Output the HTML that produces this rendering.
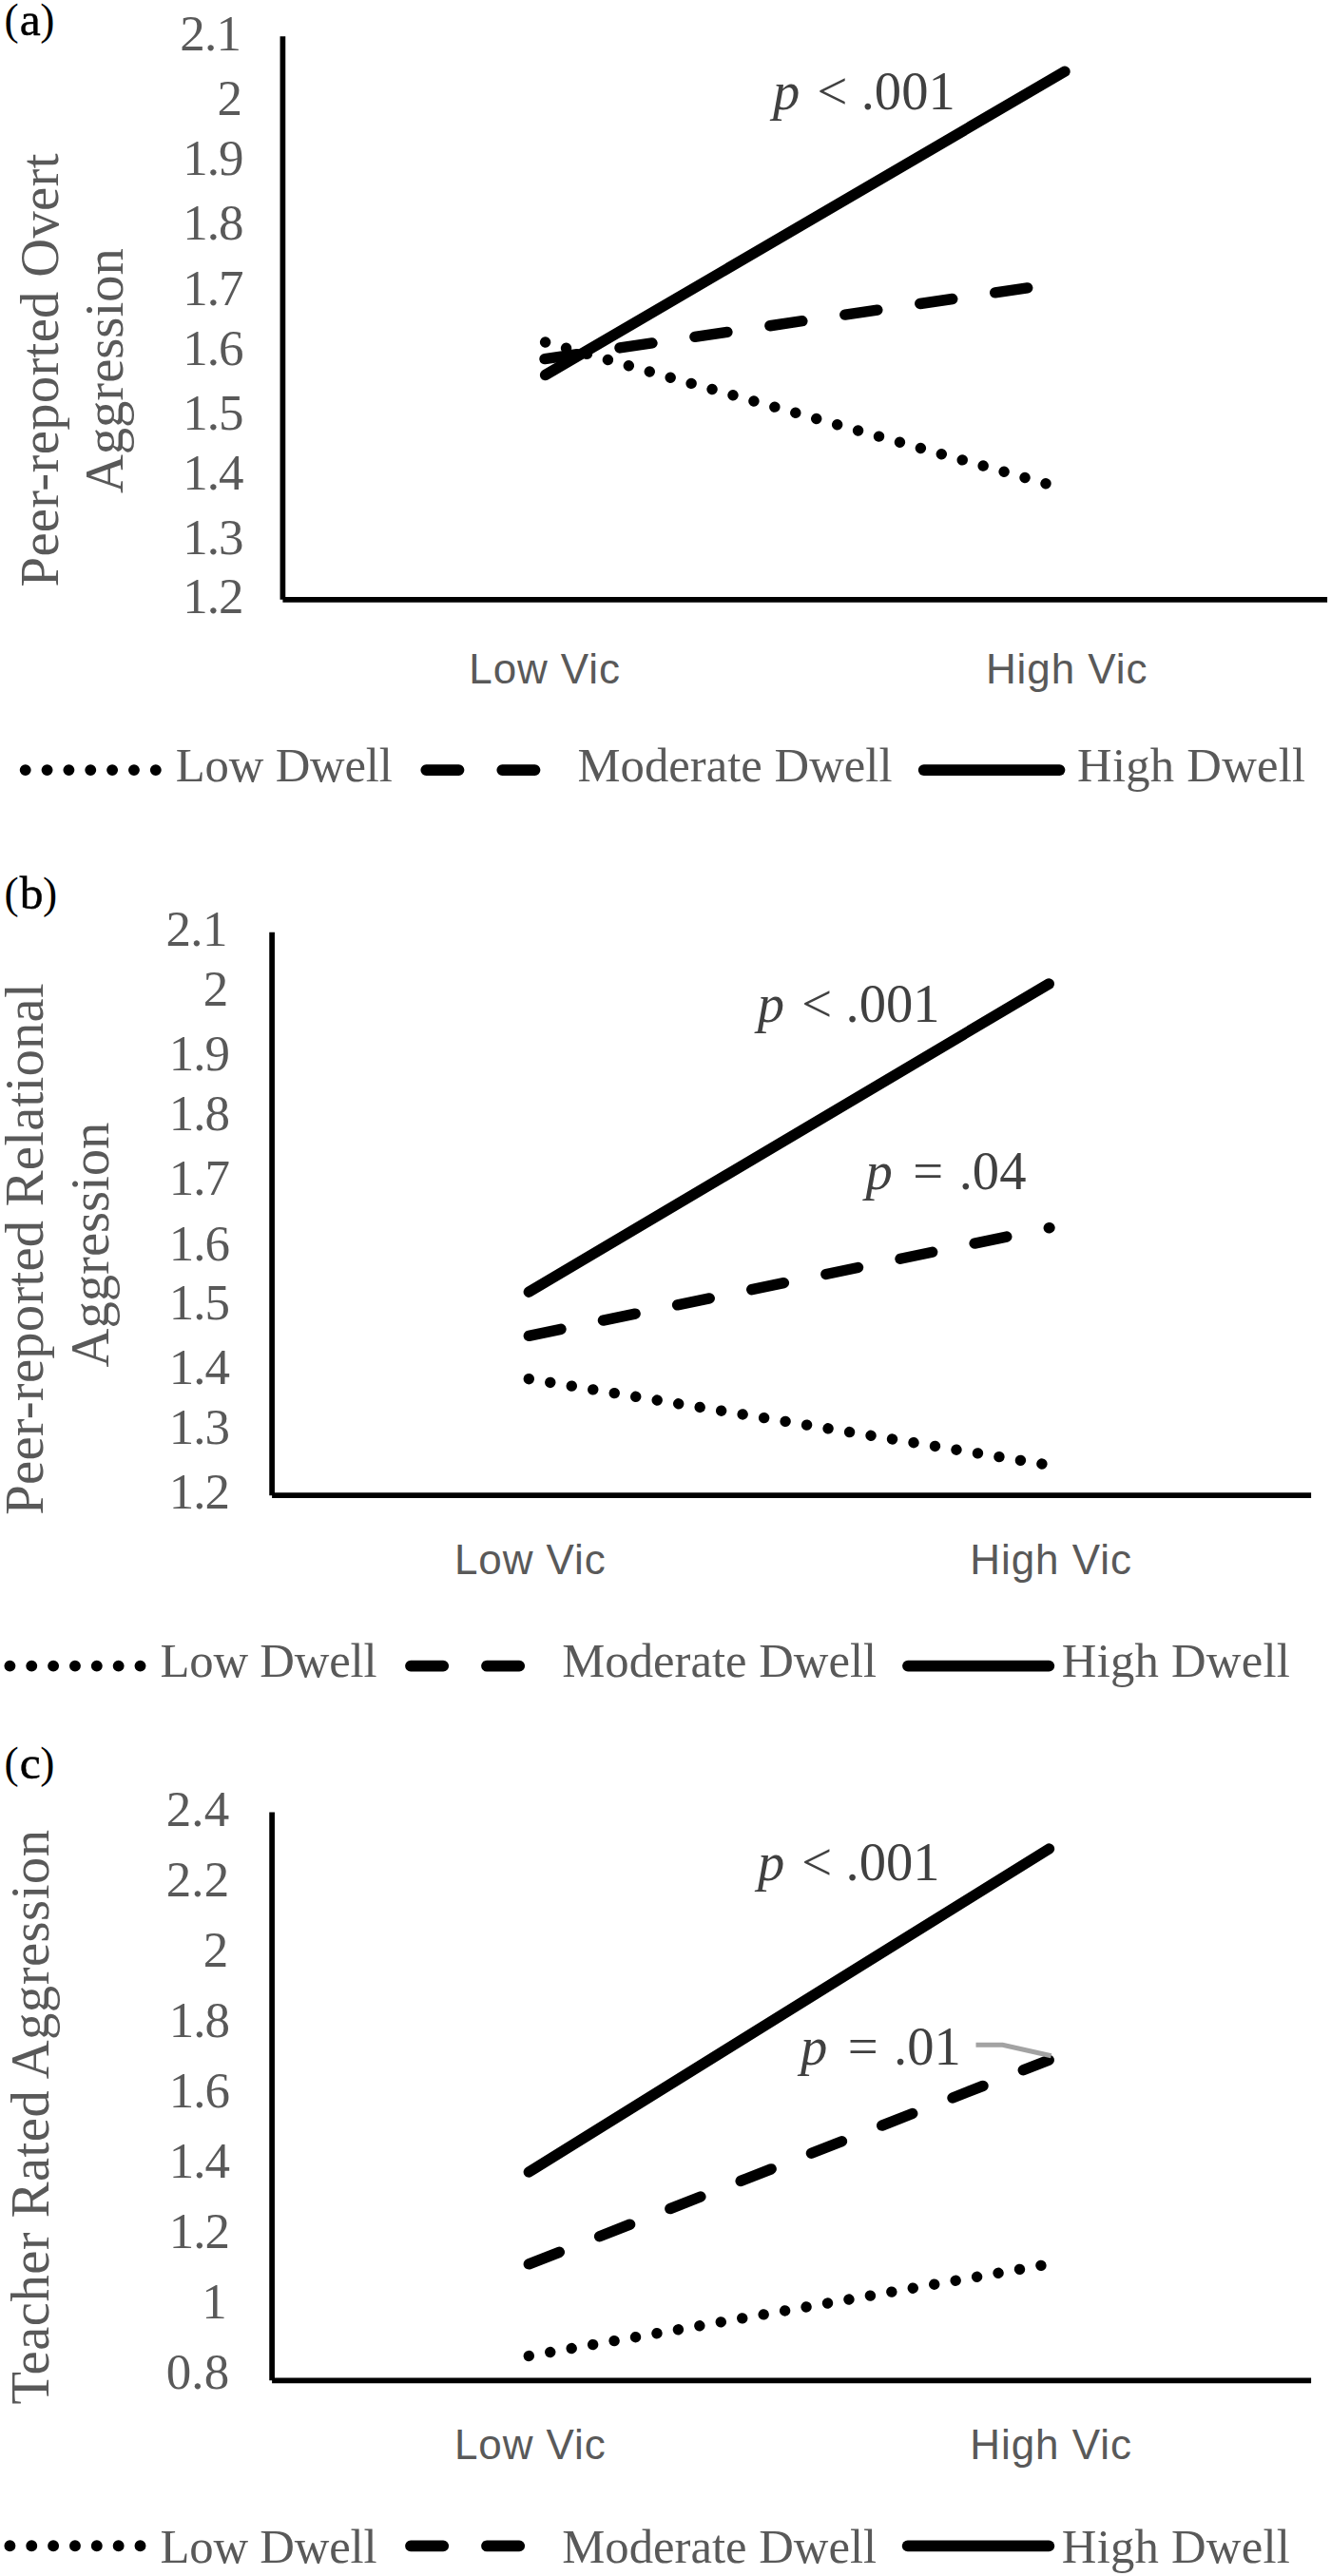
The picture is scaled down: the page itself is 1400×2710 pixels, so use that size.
<!DOCTYPE html>
<html lang="en">
<head>
<meta charset="utf-8">
<title>Figure</title>
<style>
html,body{margin:0;padding:0;background:#fff;}
svg{display:block;}
</style>
</head>
<body>
<svg width="1400" height="2710" viewBox="0 0 1400 2710">
<rect width="1400" height="2710" fill="#fff"/>
<text x="4.5" font-family='"Liberation Serif", serif' fill="#000"><tspan font-size="45.5" y="35.7">(</tspan><tspan font-size="49.5" y="36.9" dx="1.2" stroke="#000" stroke-width="0.45">a</tspan><tspan font-size="45.5" y="35.7" dx="-0.6">)</tspan></text>
<path d="M297.40 38.2 V630.8 M297.40 630.8 H1396.1" fill="none" stroke="#000" stroke-width="5.7" stroke-linecap="butt"/>
<text x="253.3" y="52.8" font-family='"Liberation Serif", serif' font-size="53" fill="#595959" text-anchor="end" letter-spacing="-0.7">2.1</text>
<text x="254.9" y="120.7" font-family='"Liberation Serif", serif' font-size="53" fill="#595959" text-anchor="end" letter-spacing="0">2</text>
<text x="255.6" y="184.2" font-family='"Liberation Serif", serif' font-size="53" fill="#595959" text-anchor="end" letter-spacing="-1.0">1.9</text>
<text x="255.6" y="252.1" font-family='"Liberation Serif", serif' font-size="53" fill="#595959" text-anchor="end" letter-spacing="-1.0">1.8</text>
<text x="255.6" y="320.5" font-family='"Liberation Serif", serif' font-size="53" fill="#595959" text-anchor="end" letter-spacing="-1.0">1.7</text>
<text x="255.6" y="383.5" font-family='"Liberation Serif", serif' font-size="53" fill="#595959" text-anchor="end" letter-spacing="-1.0">1.6</text>
<text x="255.6" y="451.7" font-family='"Liberation Serif", serif' font-size="53" fill="#595959" text-anchor="end" letter-spacing="-1.0">1.5</text>
<text x="255.6" y="514.5" font-family='"Liberation Serif", serif' font-size="53" fill="#595959" text-anchor="end" letter-spacing="-1.0">1.4</text>
<text x="255.6" y="583.0" font-family='"Liberation Serif", serif' font-size="53" fill="#595959" text-anchor="end" letter-spacing="-1.0">1.3</text>
<text x="255.6" y="645.1" font-family='"Liberation Serif", serif' font-size="53" fill="#595959" text-anchor="end" letter-spacing="-1.0">1.2</text>
<text transform="translate(60.7,389.5) rotate(-90)" font-family='"Liberation Serif", serif' font-size="56.6" fill="#595959" text-anchor="middle" textLength="455.8" lengthAdjust="spacing">Peer-reported Overt</text>
<text transform="translate(129.2,390.2) rotate(-90)" font-family='"Liberation Serif", serif' font-size="56.6" fill="#595959" text-anchor="middle">Aggression</text>
<line x1="573.6" y1="360.0" x2="1120.6" y2="514.5" stroke="#000" stroke-width="11.4" stroke-linecap="round" stroke-dasharray="0.01 22.78"/>
<line x1="573.0" y1="377.6" x2="1120.6" y2="297.0" stroke="#000" stroke-width="11.4" stroke-linecap="round" stroke-dasharray="34.4 45.4"/>
<line x1="573.6" y1="394.5" x2="1120.0" y2="75.2" stroke="#000" stroke-width="11.4" stroke-linecap="round"/>
<text x="813.0" y="115.1" font-family='"Liberation Serif", serif' font-size="56.6" fill="#404040" text-anchor="start" ><tspan font-style="italic">p</tspan><tspan dx="4"> &lt;</tspan><tspan dx="0.2"> .001</tspan></text>
<text x="493.3" y="719.0" font-family='"Liberation Sans", sans-serif' font-size="44" fill="#595959" text-anchor="start" letter-spacing="0.9">Low Vic</text>
<text x="1036.9" y="719.0" font-family='"Liberation Sans", sans-serif' font-size="44" fill="#595959" text-anchor="start" letter-spacing="0.95">High Vic</text>
<line x1="26.7" y1="810.1" x2="165.8" y2="810.1" stroke="#000" stroke-width="11.9" stroke-linecap="round" stroke-dasharray="0.01 22.84"/>
<text x="184.8" y="821.6" font-family='"Liberation Serif", serif' font-size="50.7" fill="#595959" text-anchor="start" textLength="228.0" lengthAdjust="spacing" >Low Dwell</text>
<line x1="448.3" y1="810.1" x2="562.5" y2="810.1" stroke="#000" stroke-width="11.8" stroke-linecap="round" stroke-dasharray="34.2 45.8"/>
<text x="607.5" y="821.6" font-family='"Liberation Serif", serif' font-size="50.7" fill="#595959" text-anchor="start" textLength="331.0" lengthAdjust="spacing" >Moderate Dwell</text>
<line x1="971.7" y1="810.1" x2="1114.5" y2="810.1" stroke="#000" stroke-width="11.8" stroke-linecap="round"/>
<text x="1133.1" y="821.6" font-family='"Liberation Serif", serif' font-size="50.7" fill="#595959" text-anchor="start" textLength="240.0" lengthAdjust="spacing" >High Dwell</text>
<text x="4.5" font-family='"Liberation Serif", serif' fill="#000"><tspan font-size="45.5" y="954.9">(</tspan><tspan font-size="49.5" y="956.1" dx="1.2" stroke="#000" stroke-width="0.45">b</tspan><tspan font-size="45.5" y="954.9" dx="-0.6">)</tspan></text>
<path d="M286.10 980.7 V1573.2 M286.10 1573.2 H1379.1" fill="none" stroke="#000" stroke-width="5.7" stroke-linecap="butt"/>
<text x="238.7" y="995.1" font-family='"Liberation Serif", serif' font-size="53" fill="#595959" text-anchor="end" letter-spacing="-0.7">2.1</text>
<text x="240.3" y="1057.5" font-family='"Liberation Serif", serif' font-size="53" fill="#595959" text-anchor="end" letter-spacing="0">2</text>
<text x="241.0" y="1126.4" font-family='"Liberation Serif", serif' font-size="53" fill="#595959" text-anchor="end" letter-spacing="-1.0">1.9</text>
<text x="241.0" y="1189.2" font-family='"Liberation Serif", serif' font-size="53" fill="#595959" text-anchor="end" letter-spacing="-1.0">1.8</text>
<text x="241.0" y="1257.4" font-family='"Liberation Serif", serif' font-size="53" fill="#595959" text-anchor="end" letter-spacing="-1.0">1.7</text>
<text x="241.0" y="1325.7" font-family='"Liberation Serif", serif' font-size="53" fill="#595959" text-anchor="end" letter-spacing="-1.0">1.6</text>
<text x="241.0" y="1387.9" font-family='"Liberation Serif", serif' font-size="53" fill="#595959" text-anchor="end" letter-spacing="-1.0">1.5</text>
<text x="241.0" y="1456.0" font-family='"Liberation Serif", serif' font-size="53" fill="#595959" text-anchor="end" letter-spacing="-1.0">1.4</text>
<text x="241.0" y="1519.2" font-family='"Liberation Serif", serif' font-size="53" fill="#595959" text-anchor="end" letter-spacing="-1.0">1.3</text>
<text x="241.0" y="1587.4" font-family='"Liberation Serif", serif' font-size="53" fill="#595959" text-anchor="end" letter-spacing="-1.0">1.2</text>
<text transform="translate(45.1,1314.0) rotate(-90)" font-family='"Liberation Serif", serif' font-size="56.6" fill="#595959" text-anchor="middle" textLength="559.4" lengthAdjust="spacing">Peer-reported Relational</text>
<text transform="translate(113.6,1309.5) rotate(-90)" font-family='"Liberation Serif", serif' font-size="56.6" fill="#595959" text-anchor="middle">Aggression</text>
<line x1="556.3" y1="1450.7" x2="1104.0" y2="1541.4" stroke="#000" stroke-width="11.4" stroke-linecap="round" stroke-dasharray="0.01 22.78"/>
<line x1="556.3" y1="1405.3" x2="1104.0" y2="1291.7" stroke="#000" stroke-width="11.4" stroke-linecap="round" stroke-dasharray="34.4 45.4"/>
<line x1="556.3" y1="1359.2" x2="1103.3" y2="1035.0" stroke="#000" stroke-width="11.4" stroke-linecap="round"/>
<text x="796.8" y="1075.3" font-family='"Liberation Serif", serif' font-size="56.6" fill="#404040" text-anchor="start" ><tspan font-style="italic">p</tspan><tspan dx="4"> &lt;</tspan><tspan dx="0.2"> .001</tspan></text>
<text x="910.6" y="1251.3" font-family='"Liberation Serif", serif' font-size="56.6" fill="#404040" text-anchor="start" ><tspan font-style="italic">p</tspan><tspan dx="7.2"> =</tspan><tspan dx="2.4"> .04</tspan></text>
<text x="478.0" y="1655.5" font-family='"Liberation Sans", sans-serif' font-size="44" fill="#595959" text-anchor="start" letter-spacing="0.9">Low Vic</text>
<text x="1020.2" y="1655.5" font-family='"Liberation Sans", sans-serif' font-size="44" fill="#595959" text-anchor="start" letter-spacing="0.95">High Vic</text>
<line x1="10.4" y1="1752.6" x2="149.5" y2="1752.6" stroke="#000" stroke-width="11.9" stroke-linecap="round" stroke-dasharray="0.01 22.84"/>
<text x="168.5" y="1764.1" font-family='"Liberation Serif", serif' font-size="50.7" fill="#595959" text-anchor="start" textLength="228.0" lengthAdjust="spacing" >Low Dwell</text>
<line x1="432.0" y1="1752.6" x2="546.2" y2="1752.6" stroke="#000" stroke-width="11.8" stroke-linecap="round" stroke-dasharray="34.2 45.8"/>
<text x="591.2" y="1764.1" font-family='"Liberation Serif", serif' font-size="50.7" fill="#595959" text-anchor="start" textLength="331.0" lengthAdjust="spacing" >Moderate Dwell</text>
<line x1="955.0" y1="1752.6" x2="1103.3" y2="1752.6" stroke="#000" stroke-width="11.8" stroke-linecap="round"/>
<text x="1116.8" y="1764.1" font-family='"Liberation Serif", serif' font-size="50.7" fill="#595959" text-anchor="start" textLength="240.0" lengthAdjust="spacing" >High Dwell</text>
<text x="4.5" font-family='"Liberation Serif", serif' fill="#000"><tspan font-size="45.5" y="1869.6">(</tspan><tspan font-size="49.5" y="1870.8" dx="1.2" stroke="#000" stroke-width="0.45">c</tspan><tspan font-size="45.5" y="1869.6" dx="-0.6">)</tspan></text>
<path d="M286.10 1906.5 V2504.3 M286.10 2504.3 H1379.1" fill="none" stroke="#000" stroke-width="5.7" stroke-linecap="butt"/>
<text x="241.3" y="1921.0" font-family='"Liberation Serif", serif' font-size="53" fill="#595959" text-anchor="end" letter-spacing="0.1">2.4</text>
<text x="241.3" y="1994.5" font-family='"Liberation Serif", serif' font-size="53" fill="#595959" text-anchor="end" letter-spacing="0.1">2.2</text>
<text x="240.3" y="2068.8" font-family='"Liberation Serif", serif' font-size="53" fill="#595959" text-anchor="end" letter-spacing="0">2</text>
<text x="241.0" y="2142.9" font-family='"Liberation Serif", serif' font-size="53" fill="#595959" text-anchor="end" letter-spacing="-1.0">1.8</text>
<text x="241.0" y="2216.7" font-family='"Liberation Serif", serif' font-size="53" fill="#595959" text-anchor="end" letter-spacing="-1.0">1.6</text>
<text x="241.0" y="2291.2" font-family='"Liberation Serif", serif' font-size="53" fill="#595959" text-anchor="end" letter-spacing="-1.0">1.4</text>
<text x="241.0" y="2365.0" font-family='"Liberation Serif", serif' font-size="53" fill="#595959" text-anchor="end" letter-spacing="-1.0">1.2</text>
<text x="238.8" y="2439.3" font-family='"Liberation Serif", serif' font-size="53" fill="#595959" text-anchor="end" letter-spacing="0">1</text>
<text x="241.3" y="2513.2" font-family='"Liberation Serif", serif' font-size="53" fill="#595959" text-anchor="end" letter-spacing="0.1">0.8</text>
<text transform="translate(51.2,2227.3) rotate(-90)" font-family='"Liberation Serif", serif' font-size="56.6" fill="#595959" text-anchor="middle" textLength="604.5" lengthAdjust="spacing">Teacher Rated Aggression</text>
<line x1="556.3" y1="2478.5" x2="1104.0" y2="2381.8" stroke="#000" stroke-width="11.4" stroke-linecap="round" stroke-dasharray="0.01 22.78"/>
<line x1="556.3" y1="2381.9" x2="1103.2" y2="2167.2" stroke="#000" stroke-width="11.4" stroke-linecap="round" stroke-dasharray="34.4 45.4"/>
<line x1="556.3" y1="2285.0" x2="1103.5" y2="1945.0" stroke="#000" stroke-width="11.4" stroke-linecap="round"/>
<text x="796.9" y="1977.5" font-family='"Liberation Serif", serif' font-size="56.6" fill="#404040" text-anchor="start" ><tspan font-style="italic">p</tspan><tspan dx="4"> &lt;</tspan><tspan dx="0.2"> .001</tspan></text>
<text x="842.0" y="2171.6" font-family='"Liberation Serif", serif' font-size="56.6" fill="#404040" text-anchor="start" ><tspan font-style="italic">p</tspan><tspan dx="7.2"> =</tspan><tspan dx="2.4"> .01</tspan></text>
<polyline points="1026.5,2151.2 1054.6,2151.2 1105.7,2162.7" fill="none" stroke="#a3a3a3" stroke-width="5"/>
<text x="478.0" y="2587.0" font-family='"Liberation Sans", sans-serif' font-size="44" fill="#595959" text-anchor="start" letter-spacing="0.9">Low Vic</text>
<text x="1020.2" y="2587.0" font-family='"Liberation Sans", sans-serif' font-size="44" fill="#595959" text-anchor="start" letter-spacing="0.95">High Vic</text>
<line x1="10.4" y1="2678.3" x2="149.5" y2="2678.3" stroke="#000" stroke-width="11.9" stroke-linecap="round" stroke-dasharray="0.01 22.84"/>
<text x="168.5" y="2696.0" font-family='"Liberation Serif", serif' font-size="50.7" fill="#595959" text-anchor="start" textLength="228.0" lengthAdjust="spacing" >Low Dwell</text>
<line x1="432.0" y1="2678.3" x2="546.2" y2="2678.3" stroke="#000" stroke-width="11.8" stroke-linecap="round" stroke-dasharray="34.2 45.8"/>
<text x="591.2" y="2696.0" font-family='"Liberation Serif", serif' font-size="50.7" fill="#595959" text-anchor="start" textLength="331.0" lengthAdjust="spacing" >Moderate Dwell</text>
<line x1="954.7" y1="2678.3" x2="1103.3" y2="2678.3" stroke="#000" stroke-width="11.8" stroke-linecap="round"/>
<text x="1116.8" y="2696.0" font-family='"Liberation Serif", serif' font-size="50.7" fill="#595959" text-anchor="start" textLength="240.0" lengthAdjust="spacing" >High Dwell</text>
</svg>
</body>
</html>
